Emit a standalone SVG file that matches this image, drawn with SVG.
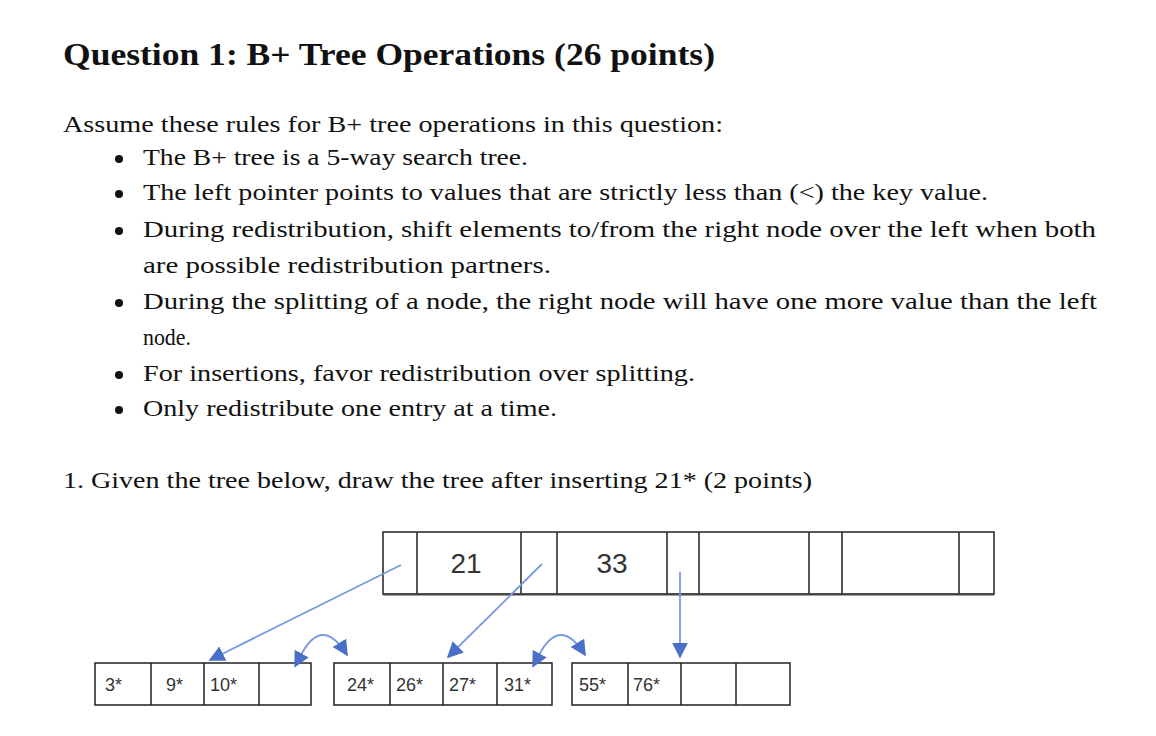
<svg xmlns="http://www.w3.org/2000/svg" width="1156" height="736" viewBox="0 0 1156 736">
<style>
.t{font-family:"Liberation Serif","DejaVu Serif",serif;font-size:23px;fill:#111}
.h{font-family:"Liberation Serif","DejaVu Serif",serif;font-size:31px;font-weight:bold;fill:#111}
.b{fill:none;stroke:#222;stroke-width:1.5}
.k{font-family:"Liberation Sans",Arial,sans-serif;font-size:18px;fill:#333}
.r{font-family:"Liberation Sans",Arial,sans-serif;font-size:28px;fill:#333;text-anchor:middle}
.c{stroke:#7a9ae0;stroke-width:1.8;fill:none}
</style>
<defs>
<marker id="a" viewBox="0 0 10 10" refX="9" refY="5" markerWidth="16" markerHeight="16" orient="auto" markerUnits="userSpaceOnUse"><path d="M0,0L10,5L0,10z" fill="#4a6fc9"/></marker>
<marker id="as" viewBox="0 0 10 10" refX="1" refY="5" markerWidth="16" markerHeight="16" orient="auto-start-reverse" markerUnits="userSpaceOnUse"><path d="M0,0L10,5L0,10z" fill="#4a6fc9"/></marker>
</defs>
<rect width="1156" height="736" fill="#fff"/>
<text class="h" x="63" y="65" textLength="652" lengthAdjust="spacingAndGlyphs">Question 1: B+ Tree Operations (26 points)</text>
<text class="t" x="63" y="132" textLength="660" lengthAdjust="spacingAndGlyphs">Assume these rules for B+ tree operations in this question:</text>
<g fill="#111"><circle cx="119" cy="159" r="4"/><circle cx="119" cy="194" r="4"/><circle cx="119" cy="231" r="4"/><circle cx="119" cy="303" r="4"/><circle cx="119" cy="375" r="4"/><circle cx="119" cy="410" r="4"/></g>
<text class="t" x="143" y="165" textLength="385" lengthAdjust="spacingAndGlyphs">The B+ tree is a 5-way search tree.</text>
<text class="t" x="143" y="200" textLength="845" lengthAdjust="spacingAndGlyphs">The left pointer points to values that are strictly less than (&lt;) the key value.</text>
<text class="t" x="143" y="237" textLength="953" lengthAdjust="spacingAndGlyphs">During redistribution, shift elements to/from the right node over the left when both</text>
<text class="t" x="143" y="273" textLength="408" lengthAdjust="spacingAndGlyphs">are possible redistribution partners.</text>
<text class="t" x="143" y="309" textLength="954" lengthAdjust="spacingAndGlyphs">During the splitting of a node, the right node will have one more value than the left</text>
<text class="t" x="143" y="345" textLength="48" lengthAdjust="spacingAndGlyphs">node.</text>
<text class="t" x="143" y="381" textLength="552" lengthAdjust="spacingAndGlyphs">For insertions, favor redistribution over splitting.</text>
<text class="t" x="143" y="416" textLength="414" lengthAdjust="spacingAndGlyphs">Only redistribute one entry at a time.</text>
<text class="t" x="63" y="488" textLength="749" lengthAdjust="spacingAndGlyphs">1. Given the tree below, draw the tree after inserting 21* (2 points)</text>
<g id="root">
<rect class="b" x="383" y="532" width="611" height="62"/>
<path class="b" d="M417,532V594M521,532V594M557,532V594M667,532V594M699,532V594M809,532V594M842,532V594M959,532V594"/>
<line x1="383" y1="594.5" x2="994" y2="594.5" stroke="#444" stroke-width="2"/>
<text class="r" x="466" y="573">21</text>
<text class="r" x="612" y="573">33</text>
</g>
<g id="leaf1">
<rect class="b" x="95" y="663" width="216" height="42"/>
<path class="b" d="M151,663V705M204,663V705M259,663V705"/>
<text class="k" x="105" y="691">3*</text><text class="k" x="166" y="691">9*</text><text class="k" x="210" y="691">10*</text>
</g>
<g id="leaf2">
<rect class="b" x="334" y="663" width="218" height="42"/>
<path class="b" d="M390,663V705M443,663V705M497,663V705"/>
<text class="k" x="347" y="691">24*</text><text class="k" x="396" y="691">26*</text><text class="k" x="449" y="691">27*</text><text class="k" x="504" y="691">31*</text>
</g>
<g id="leaf3">
<rect class="b" x="572" y="663" width="218" height="42"/>
<path class="b" d="M628,663V705M681,663V705M736,663V705"/>
<text class="k" x="579" y="691">55*</text><text class="k" x="633" y="691">76*</text>
</g>
<g id="connectors">
<line class="c" x1="401" y1="565" x2="210" y2="660" marker-end="url(#a)"/>
<line class="c" x1="542" y1="564" x2="448" y2="657" marker-end="url(#a)"/>
<line class="c" x1="680" y1="572" x2="680" y2="657" marker-end="url(#a)"/>
<path class="c" d="M301,655Q322,615 347,655" marker-start="url(#as)" marker-end="url(#a)"/>
<path class="c" d="M539,655Q560,615 585,655" marker-start="url(#as)" marker-end="url(#a)"/>
</g>
</svg>
